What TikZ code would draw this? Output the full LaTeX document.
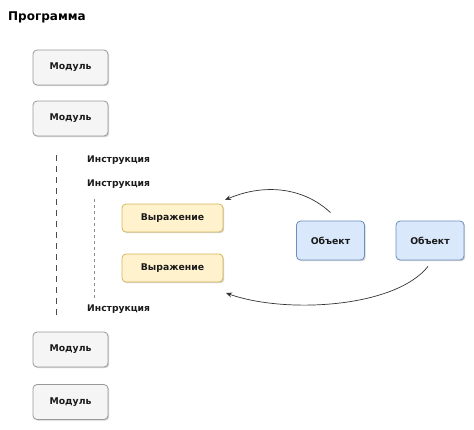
\documentclass[tikz,border=0pt]{standalone}
\usepackage{fontspec}
\setmainfont{DejaVu Sans}
\usetikzlibrary{arrows.meta,shadows}

\definecolor{modfill}{HTML}{F5F5F5}
\definecolor{moddraw}{HTML}{999999}
\definecolor{exfill}{HTML}{FFF2CC}
\definecolor{exdraw}{HTML}{D6B656}
\definecolor{obfill}{HTML}{DAE8FC}
\definecolor{obdraw}{HTML}{6C8EBF}
\definecolor{txt}{HTML}{1A1A1A}

\tikzset{
  box/.style={rounded corners=4pt, line width=0.8pt, font=\bfseries\fontsize{9.3}{11}\selectfont, text=txt,
    drop shadow={shadow xshift=1.2pt, shadow yshift=-1.2pt, fill=black!35, opacity=0.5}},
  modbox/.style={box, fill=modfill, draw=moddraw, minimum width=75pt, minimum height=35pt},
  exbox/.style={box, fill=exfill, draw=exdraw, minimum width=101pt, minimum height=28pt},
  obbox/.style={box, fill=obfill, draw=obdraw, minimum width=68pt, minimum height=39pt},
  instr/.style={font=\bfseries\fontsize{9.2}{11}\selectfont, text=txt, anchor=west, inner sep=0pt},
  link/.style={draw=black!80, line width=0.7pt, -{Stealth[length=6pt,width=5pt]}}
}

\begin{document}
\begin{tikzpicture}[x=1pt, y=-1pt]
\useasboundingbox (0,0) rectangle (474,429);

\node[anchor=west, inner sep=0pt, font=\bfseries\fontsize{12}{14}\selectfont] (title) at (8,17) {Программа};

% modules
\node[modbox] (mod1) at (70.5,67.5) {Модуль};
\node[modbox] (mod2) at (70.5,118.5) {Модуль};
\node[modbox] (mod3) at (70.5,349.5) {Модуль};
\node[modbox] (mod4) at (70.5,402) {Модуль};

% instructions
\coordinate (outtop) at (56,155);
\coordinate (outbot) at (56,319);
\draw[draw=black!70, line width=0.8pt, dash pattern=on 6pt off 5pt] (outtop) -- (outbot);
\node[instr] (ins1) at (87,160) {Инструкция};
\node[instr] (ins2) at (87,184) {Инструкция};
\node[instr] (ins3) at (87,309) {Инструкция};

\coordinate (intop) at (94,199);
\coordinate (inbot) at (94,298);
\draw[draw=black!45, line width=0.7pt, dash pattern=on 3pt off 3pt] (intop) -- (inbot);

% expressions
\node[exbox] (ex1) at (172.5,218) {Выражение};
\node[exbox] (ex2) at (172.5,268) {Выражение};

% objects
\node[obbox] (ob1) at (330.5,240.5) {Объект};
\node[obbox] (ob2) at (430,240.5) {Объект};

\coordinate (tip1) at (225,200);
\coordinate (tip2) at (226,293);
\draw[link] ([yshift=8pt]ob1.north) .. controls (302,186) and (262,184) .. (tip1);
\draw[link] ([xshift=-2pt,yshift=-6pt]ob2.south) .. controls (395,308) and (285,314) .. (tip2);

\end{tikzpicture}
\end{document}
